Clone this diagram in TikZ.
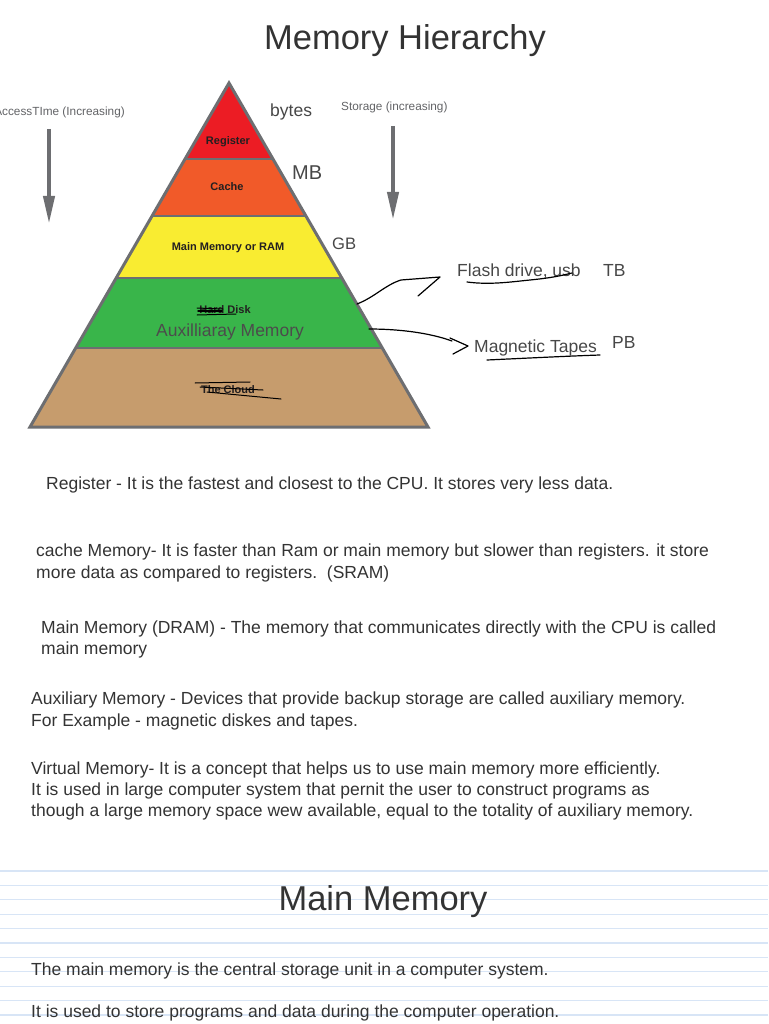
\documentclass[tikz,border=0pt]{standalone}
\usepackage{fontspec}
\setmainfont{Liberation Sans}
\usetikzlibrary{arrows.meta}
\definecolor{cred}{HTML}{EC1C24}
\definecolor{corange}{HTML}{F15A29}
\definecolor{cyellow}{HTML}{F9EC31}
\definecolor{cgreen}{HTML}{39B54A}
\definecolor{cbrown}{HTML}{C69C6D}
\definecolor{cgray}{HTML}{6D6E71}
\definecolor{ctxt}{HTML}{333333}
\definecolor{clbl}{HTML}{231F20}
\definecolor{crule}{HTML}{D8E5F6}
\tikzset{
  body/.style={anchor=base west, inner sep=0pt, text=ctxt, font=\fontsize{17.5}{20}\selectfont},
  lbl/.style={inner sep=0pt, text=clbl, font=\bfseries\fontsize{11}{12}\selectfont},
  unit/.style={inner sep=0pt, anchor=base west, text=ctxt!90, font=\fontsize{17.5}{20}\selectfont},
  side/.style={inner sep=0pt, anchor=base west, text=cgray!90!black, font=\fontsize{11.8}{13}\selectfont},
  hand/.style={draw=black, line width=1.2pt, line cap=round, line join=round},
  garrow/.style={draw=cgray, line width=4pt, -{Triangle[length=28pt,width=11pt]}},
  outline/.style={draw=cgray, line width=3pt, line join=miter},
  sep/.style={draw=cgray, line width=2pt},
  rule/.style={draw=crule, line width=1.3pt},
  title/.style={inner sep=0pt, text=ctxt, font=\fontsize{34.5}{40}\selectfont}
}
\begin{document}
\begin{tikzpicture}[x=1pt,y=-1pt]
\useasboundingbox (0,0) rectangle (768,1024);
\clip (0,0) rectangle (768,1024);
% ruled lines
\foreach \k in {0,...,10}{
  \draw[rule] (0,871+14.4*\k) -- (768,871+14.4*\k);
}
% title
\node[title, anchor=base] (t1) at (405,50) {Memory Hierarchy};
% pyramid
\begin{scope}
  \clip (229,83) -- (30,427) -- (428,427) -- cycle;
  \fill[cred] (0,60) rectangle (460,159);
  \fill[corange] (0,159) rectangle (460,216);
  \fill[cyellow] (0,216) rectangle (460,278);
  \fill[cgreen] (0,278) rectangle (460,348);
  \fill[cbrown] (0,348) rectangle (460,430);
  \draw[sep] (0,159) -- (460,159);
  \draw[sep] (0,216) -- (460,216);
  \draw[sep] (0,278) -- (460,278);
  \draw[sep] (0,348) -- (460,348);
\end{scope}
\draw[outline] (229,83) -- (30,427) -- (428,427) -- cycle;
\node[lbl] (reg) at (228,142) {Register};
\node[lbl] (cache) at (227,187) {Cache};
\node[lbl] (ram) at (228,248) {Main Memory or RAM};
\node[lbl] (hd) at (225,310) {Hard Disk};
\node[inner sep=0pt, text=black!70, font=\fontsize{17.5}{20}\selectfont] (aux) at (230,332) {Auxilliaray Memory};
\node[lbl] (cloud) at (228,390) {The Cloud};
% scribbles
\draw[hand, line width=1pt] (197,308) -- (223,309);
\draw[hand, line width=1.4pt] (198,311) -- (222,311);
\draw[hand, line width=1pt] (197,315) -- (236,314);
\draw[hand, line width=1pt] (195,383) -- (250,382);
\draw[hand, line width=1pt] (200,387) -- (263,390);
\draw[hand, line width=1pt] (207,392) -- (281,399);
% side labels and arrows
\node[side, anchor=base east] (acc) at (125,116) {AccessTIme (Increasing)};
\node[side] (sto) at (341,111) {Storage (increasing)};
\coordinate (a1s) at (49,129);
\coordinate (a1e) at (49,224);
\coordinate (a2s) at (393,126);
\coordinate (a2e) at (393,220);
\draw[garrow] (a1s) -- (a1e);
\draw[garrow] (a2s) -- (a2e);
% units
\node[unit] (bytes) at (270,117) {bytes};
\node[unit, font=\fontsize{20}{22}\selectfont] (mb) at (292,180) {MB};
\node[unit, font=\fontsize{16.6}{20}\selectfont] (gb) at (332,249) {GB};
\node[unit] (flash) at (457,276) {Flash drive, usb};
\node[unit] (tb) at (603,276) {TB};
\node[unit] (tapes) at (474,352) {Magnetic Tapes};
\node[unit] (pb) at (612,348) {PB};
% hand arrows
\coordinate (f0) at (357,304);
\coordinate (f1) at (440,277);
\draw[hand] (f0) .. controls (375,297) and (385,285) .. (401,280) -- (f1) -- (418,296);
\coordinate (m0) at (369,329);
\coordinate (m1) at (468,346);
\draw[hand] (m0) .. controls (400,329) and (430,333) .. (452,341);
\draw[hand] (450,338) -- (m1) -- (453,354);
% underlines
\draw[hand] (467,282) .. controls (490,285) and (510,282) .. (530,280) .. controls (550,278) and (560,276) .. (572,273);
\draw[hand] (487,360) .. controls (530,358) and (570,356) .. (600,355);
% body text
\node[body] (p1) at (46,489) {Register - It is the fastest and closest to the CPU. It stores very less data.};
\node[body] (p2a) at (36,556) {cache Memory- It is faster than Ram or main memory but slower than registers. it store};
\node[body] (p2b) at (36,578) {more data as compared to registers.\ \ (SRAM)};
\node[body] (p3a) at (41,633) {Main Memory (DRAM) - The memory that communicates directly with the CPU is called};
\node[body] (p3b) at (41,654) {main memory};
\node[body] (p4a) at (31,704) {Auxiliary Memory - Devices that provide backup storage are called auxiliary memory.};
\node[body] (p4b) at (31,726) {For Example - magnetic diskes and tapes.};
\node[body] (p5a) at (31,774) {Virtual Memory- It is a concept that helps us to use main memory more efficiently.};
\node[body] (p5b) at (31,795) {It is used in large computer system that pernit the user to construct programs as};
\node[body] (p5c) at (31,816) {though a large memory space wew available, equal to the totality of auxiliary memory.};
\node[title, anchor=base] (t2) at (383,910) {Main Memory};
\node[body] (p6) at (31,975) {The main memory is the central storage unit in a computer system.};
\node[body] (p7) at (31,1017) {It is used to store programs and data during the computer operation.};
\end{tikzpicture}
\end{document}
